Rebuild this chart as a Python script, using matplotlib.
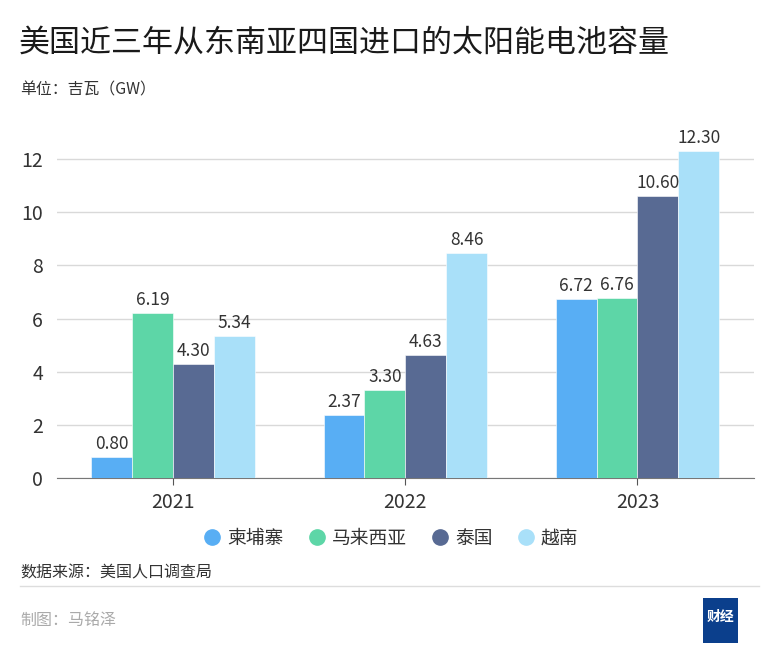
import numpy as np
import matplotlib.pyplot as plt
from matplotlib.patches import Rectangle

plt.rcParams['font.family'] = ['Noto Sans CJK SC', 'DejaVu Sans']

# Data
years = ['2021', '2022', '2023']
countries = ['柬埔寨', '马来西亚', '泰国', '越南']
cambodia = [0.80, 2.37, 6.72]
malaysia = [6.19, 3.30, 6.76]
thailand = [4.30, 4.63, 10.60]
vietnam = [5.34, 8.46, 12.30]
series = [cambodia, malaysia, thailand, vietnam]
colors = ['#58aef4', '#5dd6a7', '#586a93', '#a9e0f9']

fig = plt.figure(figsize=(7.74, 6.58), dpi=100)
ax = fig.add_axes([0.0736, 0.2736, 0.9, 0.525])

x = np.arange(len(years))
w = 0.176
for i, (vals, c) in enumerate(zip(series, colors)):
    pos = x + (i - 1.5) * w
    ax.bar(pos, vals, w, color=c, label=countries[i], zorder=3,
           edgecolor='white', linewidth=0.4)
    for p, v in zip(pos, vals):
        ax.text(p, v + 0.15, '{:.2f}'.format(v), ha='center', va='bottom',
                fontsize=12.5, color='#333333', zorder=4)

ax.set_xlim(-0.5, 2.5)
ax.set_ylim(0, 13)
ax.set_yticks([0, 2, 4, 6, 8, 10, 12])
ax.set_xticks(x)
ax.set_xticklabels(years, fontsize=14, color='#333333')
ax.tick_params(axis='y', length=0, labelsize=14, labelcolor='#333333', pad=10)
ax.tick_params(axis='x', length=5, color='#555555', pad=5)
ax.yaxis.grid(True, color='#d9d9d9', linewidth=1, zorder=0)
for s in ['top', 'right', 'left']:
    ax.spines[s].set_visible(False)
ax.spines['bottom'].set_color('#777777')

# circle markers for legend
handles = [plt.Line2D([], [], marker='o', linestyle='', markersize=11,
                      markerfacecolor=c, markeredgecolor=c) for c in colors]
ax.legend(handles, countries, loc='upper center', bbox_to_anchor=(0.479, -0.095),
          ncol=4, frameon=False, fontsize=13.5, handlelength=1.0,
          columnspacing=1.28, handletextpad=0.3, labelcolor='#333333')

fig.text(0.024, 0.935, '美国近三年从东南亚四国进口的太阳能电池容量',
         fontsize=22.3, fontweight='medium', color='#1a1a1a', va='center')
fig.text(0.026, 0.864, '单位：吉瓦（GW）', fontsize=11.4, color='#333333', va='center')
fig.text(0.026, 0.130, '数据来源：美国人口调查局', fontsize=11.5, color='#333333', va='center')
fig.add_artist(plt.Line2D([0.026, 0.98], [0.109, 0.109], color='#dddddd', linewidth=1))
fig.text(0.026, 0.057, '制图：马铭泽', fontsize=11.5, color='#aaaaaa', va='center')

fig.add_artist(Rectangle((0.908, 0.023), 0.046, 0.068, transform=fig.transFigure,
                         facecolor='#0b3f8c', edgecolor='none'))
fig.text(0.931, 0.062, '财经', fontsize=10, color='white', ha='center', va='center',
         fontweight='bold')

fig.savefig('out.png', dpi=100)
